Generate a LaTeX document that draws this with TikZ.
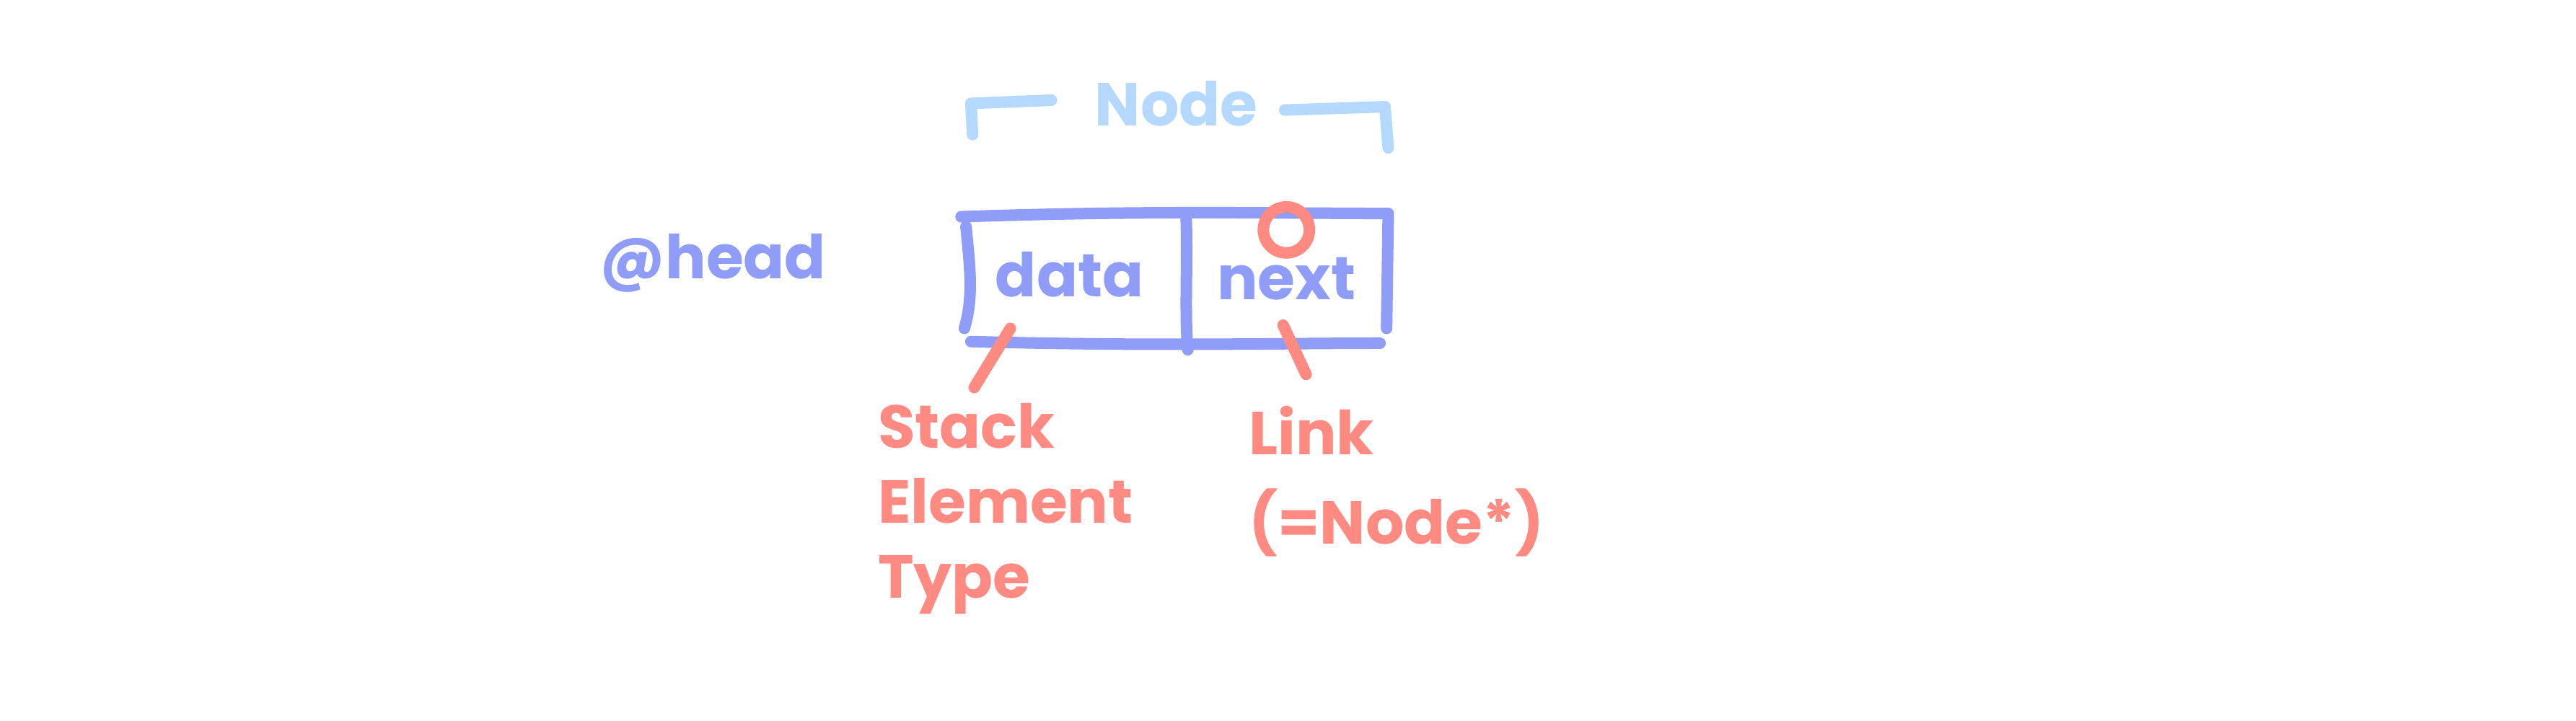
\documentclass[tikz,border=0pt]{standalone}
\usepackage{fontspec}
\setmainfont{Poppins}
\definecolor{cblue}{HTML}{8F9CF8}
\definecolor{clight}{HTML}{B5D8FF}
\definecolor{cred}{HTML}{FF8A82}
\tikzset{
  stroke/.style={line width=4pt,line cap=round,line join=round},
  lbl/.style={font=\fontsize{21}{25}\selectfont\bfseries,inner sep=0pt},
}
\begin{document}
\begin{tikzpicture}[x=0.02cm,y=-0.02cm]
\useasboundingbox (0,0) rectangle (1568,439);
\fill[white] (0,0) rectangle (1568,439);
% Node bracket
\draw[stroke,clight] (592,82) -- (591,63) -- (640,61);
\draw[stroke,clight] (782,67) -- (843,65) -- (845,90);
\node[lbl,text=clight] (title) at (716,63) {Node};
% box
\draw[stroke,cblue] (585,132) .. controls (700,128) and (780,130) .. (845,130) -- (844,200);
\draw[stroke,cblue] (588,138) .. controls (590,160) and (593,180) .. (587,200);
\draw[stroke,cblue] (591,208) .. controls (700,211) and (780,209) .. (840,209);
\draw[stroke,cblue] (722,133) .. controls (723,160) and (721,190) .. (723,213);
\node[lbl,text=cblue] (data) at (651,167) {data};
\node[lbl,text=cblue] (next) at (783,170) {next};
\node[lbl,text=cblue] (head) at (434,160) {@head};
% red annotations
\draw[stroke,cred] (783,140) circle (14);
\coordinate (c1) at (615,200);
\coordinate (c2) at (593,236);
\draw[stroke,cred] (c1) -- (c2);
\coordinate (d1) at (781,198);
\coordinate (d2) at (795,228);
\draw[stroke,cred] (d1) -- (d2);
\node[lbl,text=cred,align=left,font=\fontsize{21}{26}\selectfont\bfseries] (set) at (612,310) {Stack\\Element\\Type};
\node[lbl,text=cred,align=left,font=\fontsize{21}{31}\selectfont\bfseries] (link) at (850,293) {Link\\(=Node*)};
\end{tikzpicture}
\end{document}
